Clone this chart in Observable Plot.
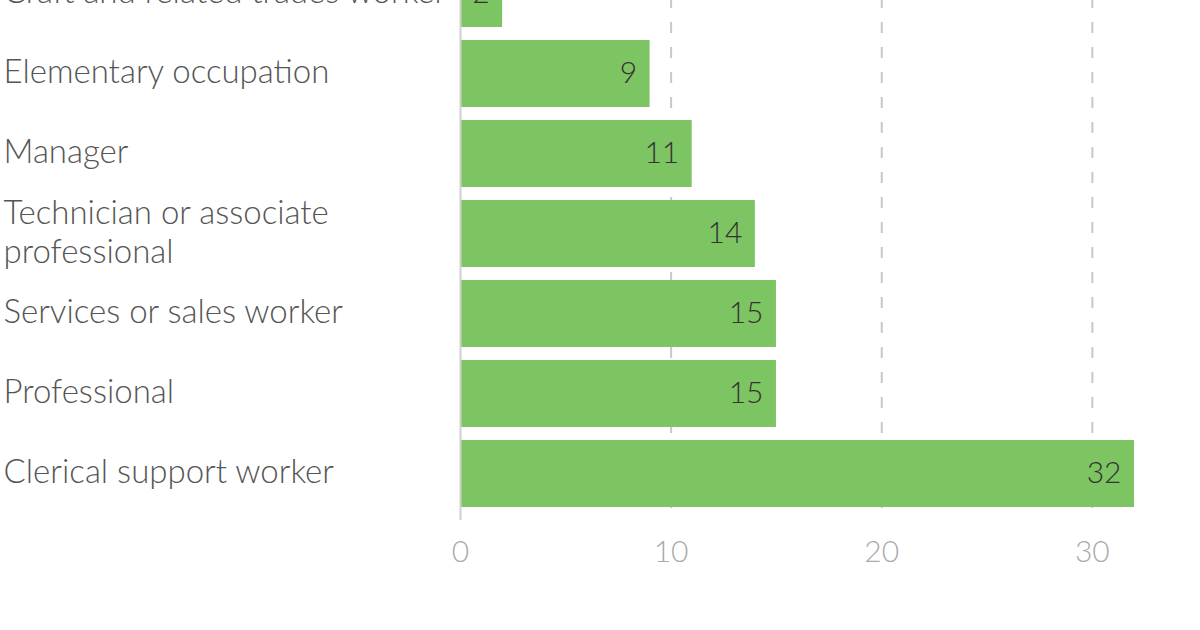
<!DOCTYPE html>
<html>
<head>
<meta charset="utf-8">
<script src="https://cdn.jsdelivr.net/npm/d3@7"></script>
<script src="https://cdn.jsdelivr.net/npm/@observablehq/plot@0.6"></script>
<style>
  body { margin: 0; background: #fff; overflow: hidden; width: 1200px; height: 630px; position: relative; }
  #chart { position: absolute; left: 0; top: -53px; }
</style>
</head>
<body>
<div id="chart"></div>
<script>
// Occupations of respondents, top to bottom
const occupations = [
  "Craft and related trades worker",
  "Elementary occupation",
  "Manager",
  "Technician or associate professional",
  "Services or sales worker",
  "Professional",
  "Clerical support worker"
];
// Row labels as set on the page (long ones broken over two lines)
const rowLabels = [
  "Craft and related trades worker",
  "Elementary occupation",
  "Manager",
  "Technician or associate\nprofessional",
  "Services or sales worker",
  "Professional",
  "Clerical support worker"
];
const counts = [2, 9, 11, 14, 15, 15, 32];
const xTicks = [0, 10, 20, 30];

const data = occupations.map((occupation, i) => ({occupation, label: rowLabels[i], count: counts[i]}));

const chart = Plot.plot({
  width: 1200,
  height: 643,
  marginLeft: 460,
  marginRight: 66,
  marginTop: 0,
  marginBottom: 70,
  style: {fontFamily: "Lato, sans-serif", fontWeight: 300, background: "#fff", overflow: "visible"},
  x: {domain: [0, 32], axis: null},
  y: {domain: occupations, padding: 0.1625, axis: null},
  marks: [
    Plot.gridX(xTicks.slice(1), {stroke: "#c8c8c8", strokeOpacity: 1, strokeWidth: 2, strokeDasharray: "11,14"}),
    Plot.barX(data, {x: "count", y: "occupation", fill: "#7dc462"}),
    Plot.ruleX([0], {stroke: "#cfcfcf", strokeWidth: 2}),
    Plot.text(data, {
      x: "count", y: "occupation", text: d => String(d.count),
      textAnchor: "end", dx: -13, dy: -1, fill: "#333", fontSize: 30, fontWeight: 300
    }),
    Plot.text(data, {
      y: "occupation", text: "label", frameAnchor: "left", textAnchor: "start",
      dx: -457, dy: -3, fill: "#555", fontSize: 33, fontWeight: 300, lineHeight: 1.18
    }),
    Plot.axisX(xTicks, {tickSize: 0, tickPadding: 20, fontSize: 30, fill: "#aaa", fontWeight: 300, label: null})
  ]
});

document.getElementById("chart").appendChild(chart);
</script>
</body>
</html>
